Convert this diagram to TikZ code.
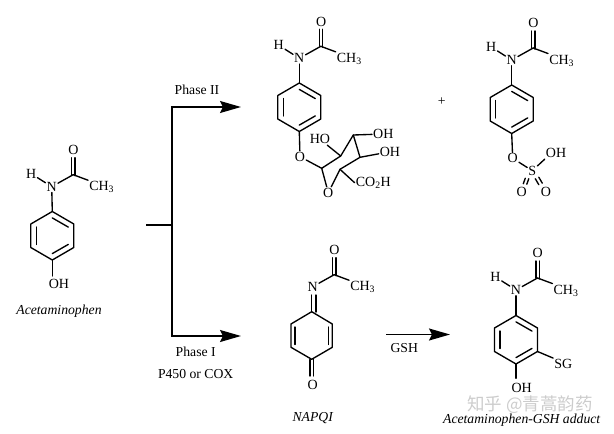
\documentclass[tikz,border=0pt]{standalone}
\usepackage{fontspec}
\setmainfont{Liberation Serif}
\newfontfamily\cjkwm{Noto Sans CJK SC}
\usetikzlibrary{arrows.meta,calc}
\tikzset{
  atom/.style={inner sep=1pt,font=\fontsize{14}{16}\selectfont},
  caption/.style={inner sep=0pt,font=\fontsize{13.7}{16}\selectfont},
  molname/.style={inner sep=0pt,font=\fontsize{13.7}{16}\selectfont\itshape},
  bond/.style={line width=1.35pt,line cap=round},
  flow/.style={line width=1.6pt},
  flowtip/.style={-{Stealth[length=21pt,width=12pt,inset=3pt]},line width=1.6pt},
}
% acetamide fragment: #1 prefix, #2 position of the N
\newcommand{\amidefrag}[2]{%
  \begin{scope}[shift={#2}]
    \node[atom] (#1N) at (0,0) {N};
    \coordinate (#1C) at (21.5,-12);
    \node[atom] (#1O) at (21.8,-36.6) {O};
    \node[atom] (#1Me) at (50,0.5) {CH\textsubscript{3}};
    \draw[bond] (#1N) -- (#1C);
    \draw[bond] (#1C) -- (#1Me.north west);
    \draw[bond] (20,-12) -- (20,-29);
    \draw[bond] (23.2,-11) -- (23.2,-29);
  \end{scope}}
% H on the N
\newcommand{\amideH}[1]{%
  \node[atom] (#1H) at ($(#1N)+(-20.5,-13)$) {H};
  \draw[bond] (#1H) -- (#1N);}
% benzene ring: #1 prefix, #2 top corner
\newcommand{\benzring}[2]{%
  \begin{scope}[shift={#2}]
    \coordinate (#1a) at (0,0);
    \coordinate (#1b) at (21.5,12.5);
    \coordinate (#1c) at (21.5,36);
    \coordinate (#1d) at (0,48.5);
    \coordinate (#1e) at (-21.5,36);
    \coordinate (#1f) at (-21.5,12.5);
    \draw[bond,line join=round] (#1a) -- (#1b) -- (#1c) -- (#1d) -- (#1e) -- (#1f) -- cycle;
    \draw[bond] (0,6.4) -- (16,15.6);
    \draw[bond] (0,42.1) -- (16,32.9);
    \draw[bond] (-16,15.5) -- (-16,33);
  \end{scope}}
\begin{document}
\begin{tikzpicture}[x=1pt,y=-1pt]
\useasboundingbox (0,0) rectangle (614,434);

% Acetaminophen
\amidefrag{p}{(51.7,186.7)}
\amideH{p}
\benzring{pr}{(52.3,211.5)}
\draw[bond] (pN) -- (pra);
\node[atom] (pOH) at (59,284) {OH};
\draw[bond] (prd) -- (52.3,276);
\node[molname] (pname) at (59,311) {Acetaminophen};

% Scheme arrows
\coordinate (stub) at (146,225);
\coordinate (fork) at (171.7,225);
\coordinate (upcorner) at (171.7,107);
\coordinate (lowcorner) at (171.7,336);
\coordinate (uptip) at (241,107);
\coordinate (lowtip) at (241,336);
\draw[flow] (stub) -- (fork);
\draw[flowtip] ([xshift=-0.75pt]upcorner) -- (upcorner) -- (uptip);
\draw[flowtip] (upcorner) -- (lowcorner) -- (lowtip);
\node[caption] (ph2) at (197,89.5) {Phase II};
\node[caption] (ph1) at (195.7,351.7) {Phase I};
\node[caption] (p450) at (195.7,374) {P450 or COX};

% Glucuronide
\amidefrag{g}{(299.3,58.3)}
\amideH{g}
\benzring{gr}{(299.3,83)}
\draw[bond] (gN) -- (gra);
\node[atom] (gO) at (300,156.7) {O};
\draw[bond] (grd) -- (gO);
\coordinate (c1) at (321.7,168.3);
\coordinate (c2) at (340.7,156);
\coordinate (c3) at (353.3,135);
\coordinate (c4) at (360,157.3);
\coordinate (c5) at (340,169.3);
\node[atom] (gOr) at (328.3,192.7) {O};
\node[atom] (gHO) at (320,139.3) {HO};
\node[atom] (gOH1) at (383.3,134) {OH};
\node[atom] (gOH2) at (390,151.7) {OH};
\node[atom] (gCO) at (373.3,182.7) {CO\textsubscript{2}H};
\draw[bond] (gO) -- (c1);
\draw[bond,line join=round] (c1) -- (c2) -- (c3) -- (c4) -- (c5);
\draw[bond] (c1) -- (gOr);
\draw[bond] (c5) -- (gOr);
\draw[bond] (c2) -- (gHO);
\draw[bond] (c3) -- (gOH1);
\draw[bond] (c4) -- (gOH2);
\draw[bond] (c5) -- (gCO.west);
\node[caption] (plus) at (441.7,101.7) {+};

% Sulfate
\amidefrag{s}{(511.7,60)}
\amideH{s}
\benzring{sr}{(511.7,85)}
\draw[bond] (sN) -- (sra);
\node[atom] (sO) at (512.7,158.3) {O};
\node[atom] (sS) at (532.3,170.7) {S};
\node[atom] (sOH) at (556,153.3) {OH};
\node[atom] (sO1) at (521.7,191.7) {O};
\node[atom] (sO2) at (546,191.7) {O};
\draw[bond] (srd) -- (sO);
\draw[bond] (sO) -- (sS);
\draw[bond] (sS) -- (sOH.south west);
\draw[bond] ($(sS)+(-3.5,8)$) -- ($(sS)+(-5.5,13.5)$);
\draw[bond] ($(sS)+(-7,7.5)$) -- ($(sS)+(-9,13)$);
\draw[bond] ($(sS)+(3,8)$) -- ($(sS)+(6.5,14)$);
\draw[bond] ($(sS)+(6.5,6.5)$) -- ($(sS)+(10,12.5)$);

% NAPQI
\amidefrag{n}{(312.7,286.7)}
\coordinate (na) at (311.7,311.7);
\coordinate (nb) at (332.3,324);
\coordinate (nc) at (332.3,347.3);
\coordinate (nd) at (311.7,359.3);
\coordinate (ne) at (291,347.3);
\coordinate (nf) at (291,324);
\draw[bond,line join=round] (na) -- (nb) -- (nc) -- (nd) -- (ne) -- (nf) -- cycle;
\draw[bond] (295,327) -- (295,344.5);
\draw[bond] (328.5,327) -- (328.5,344.5);
\draw[bond] (311.7,295) -- (na);
\draw[bond] (316,295) -- (316,312);
\node[atom] (nOb) at (312.7,385) {O};
\draw[bond] (310,359.5) -- (310,376);
\draw[bond] (313.5,359.5) -- (313.5,376);
\node[molname] (nname) at (312.7,417.7) {NAPQI};

% GSH arrow
\coordinate (gshfrom) at (386,334.5);
\coordinate (gshto) at (450,334.5);
\draw[flowtip] (gshfrom) -- (gshto);
\node[caption] (gshl) at (404.3,348.3) {GSH};

% Adduct
\amidefrag{a}{(516,290)}
\amideH{a}
\benzring{ar}{(516,315.5)}
\draw[bond] (aN) -- (ara);
\node[atom] (aSG) at (563.3,364) {SG};
\draw[bond] (arc) -- (aSG.north west);
\node[atom] (aOH) at (521.7,387.7) {OH};
\draw[bond] (ard) -- (516,378.3);
\node[inner sep=0pt,text=black!20,font=\fontsize{17.5}{19}\cjkwm] (wm) at (530,404.5) {知乎 @青蒿韵药};
\node[molname] (aname) at (521.7,420.5) {Acetaminophen-GSH adduct};
\end{tikzpicture}
\end{document}
